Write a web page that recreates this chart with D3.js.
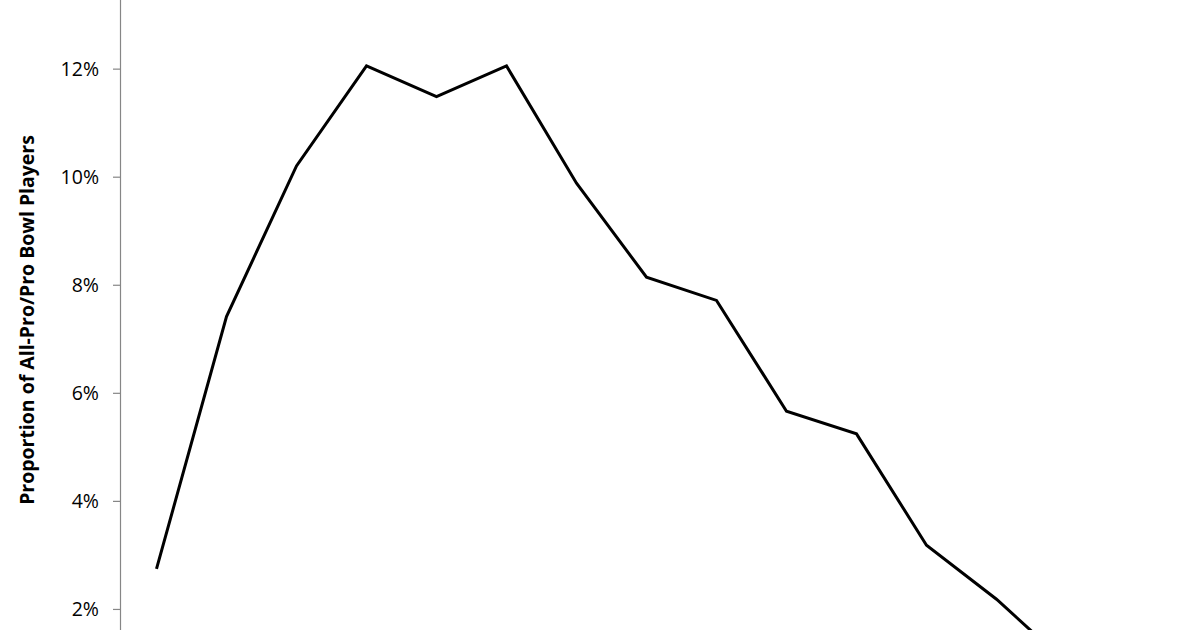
<!DOCTYPE html>
<html>
<head>
<meta charset="utf-8">
<script src="https://cdn.jsdelivr.net/npm/d3@7"></script>
<style>
  html, body { margin: 0; padding: 0; background: #fff; overflow: hidden; }
  svg { display: block; }
</style>
</head>
<body>
<svg id="chart" width="1200" height="630"></svg>
<script>
// Data (the x axis and its labels lie below the visible crop of the reference)
const categories = ["21","22","23","24","25","26","27","28","29","30","31","32","33","34"];
const values = [0.0274, 0.0741, 0.1020, 0.1205, 0.1148, 0.1205, 0.0988, 0.0814, 0.0771, 0.0566, 0.0524, 0.0318, 0.0218, 0.0100];
const yTicks = [0.02, 0.04, 0.06, 0.08, 0.10, 0.12];
const yTitle = "Proportion of All-Pro/Pro Bowl Players";

const svg = d3.select("#chart");
const axisX = 120;
const zeroY = 717;
const topY = zeroY - 14 * 54.03;

const y = d3.scaleLinear().domain([0, 0.14]).range([zeroY, topY]);
const x = d3.scaleBand().domain(categories).range([121.5, 121.5 + 70 * categories.length]).padding(0);

// Y axis
const yAxis = d3.axisLeft(y)
  .tickValues(yTicks)
  .tickFormat(d3.format(".0%"))
  .tickSize(7)
  .tickPadding(14);
const gy = svg.append("g").attr("transform", `translate(${axisX},0)`).call(yAxis);
gy.select(".domain").attr("stroke", "#868686").attr("stroke-width", 1.2);
gy.selectAll(".tick line").attr("stroke", "#868686").attr("stroke-width", 1.2);
gy.selectAll(".tick text")
  .attr("font-family", "'Open Sans', 'Liberation Sans', sans-serif")
  .attr("font-size", 19.5)
  .attr("fill", "#000")
  .attr("dy", "0.34em");

// Line
const line = d3.line()
  .x((d, i) => x(categories[i]) + x.bandwidth() / 2)
  .y(d => y(d));
svg.append("path")
  .datum(values)
  .attr("fill", "none")
  .attr("stroke", "#000")
  .attr("stroke-width", 3)
  .attr("stroke-linejoin", "miter")
  .attr("d", line);

// Y title
const t = svg.append("text")
  .attr("transform", "translate(34,320) rotate(-90)")
  .attr("text-anchor", "middle")
  .attr("font-family", "'Liberation Sans Narrow', 'Open Sans', sans-serif")
  .attr("font-weight", "bold")
  .attr("font-size", 19)
  .attr("fill", "#000")
  .text(yTitle);
const len = t.node().getComputedTextLength();
if (len > 0) {
  const fs = Math.min(21, 19 * 370 / len);
  t.attr("font-size", fs);
}
</script>
</body>
</html>
